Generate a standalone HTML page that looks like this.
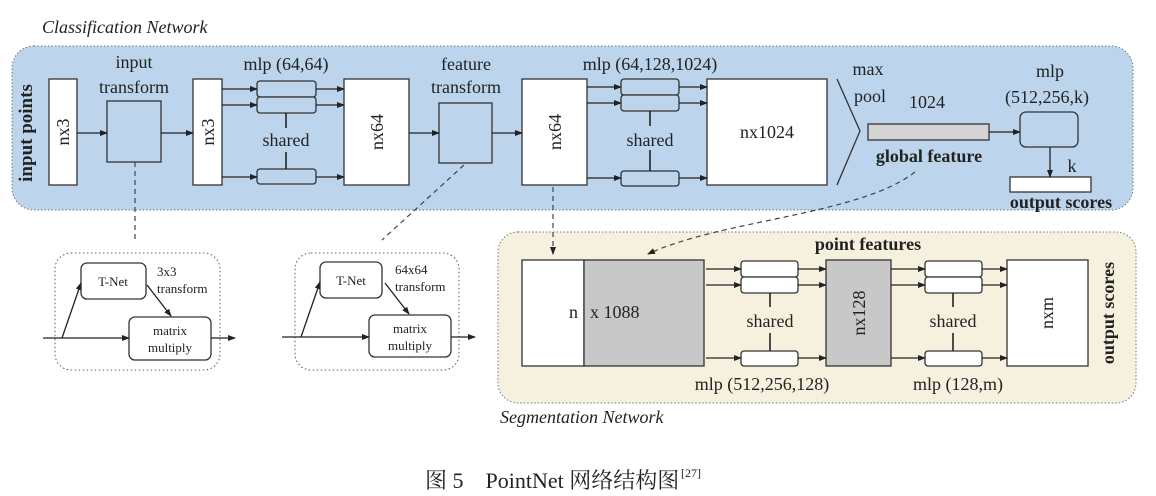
<!DOCTYPE html>
<html><head><meta charset="utf-8"><style>
html,body{margin:0;padding:0;background:#fff;}
svg{display:block;}
text{font-family:"Liberation Serif","Noto Serif CJK SC",serif;fill:#222;}
.b{font-weight:bold;}
</style></head><body>
<svg width="1156" height="496" viewBox="0 0 1156 496" xmlns="http://www.w3.org/2000/svg">
<defs>
<marker id="a" markerWidth="8" markerHeight="6" refX="7" refY="3" orient="auto" markerUnits="userSpaceOnUse"><path d="M0,0 L8,3 L0,6 z" fill="#222"/></marker>
</defs>
<rect x="12" y="46" width="1121" height="164" rx="22" fill="#bcd5ec" stroke="#777" stroke-width="1" stroke-dasharray="1.5,2"/>
<text x="42" y="33" font-size="18" font-style="italic">Classification Network</text>
<text transform="translate(32,133) rotate(-90)" font-size="19" class="b" text-anchor="middle">input points</text>

<g stroke="#333" stroke-width="1.3" fill="#fff">
<rect x="49" y="79" width="28" height="106"/>
<rect x="107" y="101" width="54" height="61" fill="#bcd5ec"/>
<rect x="193" y="79" width="29" height="106"/>
<rect x="257" y="81" width="59" height="16" rx="3" fill="#bcd5ec"/>
<rect x="257" y="97" width="59" height="16" rx="3" fill="#bcd5ec"/>
<rect x="257" y="169" width="59" height="15" rx="3" fill="#bcd5ec"/>
<rect x="344" y="79" width="65" height="106"/>
<rect x="439" y="103" width="53" height="60" fill="#bcd5ec"/>
<rect x="522" y="79" width="65" height="106"/>
<rect x="621" y="79" width="58" height="16" rx="3" fill="#bcd5ec"/>
<rect x="621" y="95" width="58" height="16" rx="3" fill="#bcd5ec"/>
<rect x="621" y="171" width="58" height="15" rx="3" fill="#bcd5ec"/>
<rect x="707" y="79" width="120" height="106"/>
<rect x="868" y="124" width="121" height="16" fill="#d4d4d4"/>
<rect x="1020" y="112" width="58" height="35" rx="6" fill="#bcd5ec"/>
<rect x="1010" y="177" width="81" height="15"/>
</g>
<polyline points="837,79 860,131 837,185" fill="none" stroke="#333" stroke-width="1.3"/>
<g stroke="#222" stroke-width="1.3" marker-end="url(#a)">
<line x1="77" y1="133" x2="107" y2="133"/>
<line x1="161" y1="133" x2="193" y2="133"/>
<line x1="222" y1="89" x2="257" y2="89"/>
<line x1="222" y1="105" x2="257" y2="105"/>
<line x1="222" y1="177" x2="257" y2="177"/>
<line x1="316" y1="89" x2="344" y2="89"/>
<line x1="316" y1="105" x2="344" y2="105"/>
<line x1="316" y1="177" x2="344" y2="177"/>
<line x1="409" y1="133" x2="439" y2="133"/>
<line x1="492" y1="133" x2="522" y2="133"/>
<line x1="587" y1="87" x2="621" y2="87"/>
<line x1="587" y1="103" x2="621" y2="103"/>
<line x1="587" y1="178" x2="621" y2="178"/>
<line x1="679" y1="87" x2="707" y2="87"/>
<line x1="679" y1="103" x2="707" y2="103"/>
<line x1="679" y1="178" x2="707" y2="178"/>
<line x1="989" y1="132" x2="1020" y2="132"/>
<line x1="1050" y1="147" x2="1050" y2="177"/>
</g>
<g stroke="#222" stroke-width="1.6">
<line x1="286" y1="113" x2="286" y2="128"/><line x1="286" y1="152" x2="286" y2="169"/>
<line x1="650" y1="111" x2="650" y2="126"/><line x1="650" y1="150" x2="650" y2="171"/>
</g>
<g font-size="18" text-anchor="middle">
<text x="134" y="68">input</text><text x="134" y="93">transform</text>
<text x="286" y="70">mlp (64,64)</text>
<text x="286" y="146">shared</text>
<text x="466" y="70">feature</text><text x="466" y="93">transform</text>
<text x="650" y="70">mlp (64,128,1024)</text>
<text x="650" y="146">shared</text>
<text x="767" y="138">nx1024</text>
<text x="868" y="75">max</text><text x="870" y="102">pool</text>
<text x="927" y="108">1024</text>
<text x="1050" y="77">mlp</text><text x="1047" y="103">(512,256,k)</text>
<text x="1072" y="172">k</text>
<text x="929" y="162" class="b">global feature</text>
<text x="1061" y="208" class="b">output scores</text>
<text transform="translate(69,132) rotate(-90)">nx3</text>
<text transform="translate(214,132) rotate(-90)">nx3</text>
<text transform="translate(383,132) rotate(-90)">nx64</text>
<text transform="translate(561,132) rotate(-90)">nx64</text>
</g>

<g stroke="#666" stroke-width="1.1" fill="none" stroke-dasharray="1.5,2.5">
<rect x="55" y="253" width="165" height="117" rx="16"/>
<rect x="295" y="253" width="164" height="117" rx="16"/>
</g>
<g stroke="#333" stroke-width="1.3" fill="#fff">
<rect x="81" y="263" width="65" height="36" rx="6"/>
<rect x="129" y="317" width="82" height="43" rx="6"/>
<rect x="320" y="262" width="62" height="36" rx="6"/>
<rect x="369" y="315" width="82" height="42" rx="6"/>
</g>
<g stroke="#222" stroke-width="1.3" fill="none" marker-end="url(#a)">
<line x1="43" y1="338" x2="129" y2="338"/>
<line x1="211" y1="338" x2="235" y2="338"/>
<line x1="62" y1="338" x2="81" y2="283"/>
<line x1="147" y1="285" x2="171" y2="316"/>
<line x1="282" y1="337" x2="369" y2="337"/>
<line x1="451" y1="337" x2="475" y2="337"/>
<line x1="301" y1="337" x2="320" y2="282"/>
<line x1="385" y1="283" x2="409" y2="314"/>
</g>
<g font-size="13">
<text x="113" y="286" text-anchor="middle">T-Net</text>
<text x="351" y="285" text-anchor="middle">T-Net</text>
<text x="157" y="276">3x3</text><text x="157" y="293">transform</text>
<text x="395" y="274">64x64</text><text x="395" y="291">transform</text>
<text x="170" y="335" text-anchor="middle">matrix</text><text x="170" y="352" text-anchor="middle">multiply</text>
<text x="410" y="333" text-anchor="middle">matrix</text><text x="410" y="350" text-anchor="middle">multiply</text>
</g>

<rect x="498" y="232" width="638" height="171" rx="20" fill="#f6f0de" stroke="#777" stroke-width="1" stroke-dasharray="1.5,2"/>
<text x="500" y="423" font-size="18" font-style="italic">Segmentation Network</text>
<g stroke="#333" stroke-width="1.3" fill="#fff">
<rect x="522" y="260" width="62" height="106"/>
<rect x="584" y="260" width="120" height="106" fill="#c8c8c8"/>
<rect x="741" y="261" width="57" height="16" rx="3"/>
<rect x="741" y="277" width="57" height="16" rx="3"/>
<rect x="741" y="351" width="57" height="15" rx="3"/>
<rect x="826" y="260" width="65" height="106" fill="#c8c8c8"/>
<rect x="925" y="261" width="57" height="16" rx="3"/>
<rect x="925" y="277" width="57" height="16" rx="3"/>
<rect x="925" y="351" width="57" height="15" rx="3"/>
<rect x="1007" y="260" width="81" height="106"/>
</g>
<g stroke="#222" stroke-width="1.3" marker-end="url(#a)">
<line x1="706" y1="269" x2="741" y2="269"/>
<line x1="706" y1="285" x2="741" y2="285"/>
<line x1="706" y1="358" x2="741" y2="358"/>
<line x1="798" y1="269" x2="826" y2="269"/>
<line x1="798" y1="285" x2="826" y2="285"/>
<line x1="798" y1="358" x2="826" y2="358"/>
<line x1="891" y1="269" x2="925" y2="269"/>
<line x1="891" y1="285" x2="925" y2="285"/>
<line x1="891" y1="358" x2="925" y2="358"/>
<line x1="982" y1="269" x2="1007" y2="269"/>
<line x1="982" y1="285" x2="1007" y2="285"/>
<line x1="982" y1="358" x2="1007" y2="358"/>
</g>
<g stroke="#222" stroke-width="1.6">
<line x1="770" y1="293" x2="770" y2="307"/><line x1="770" y1="333" x2="770" y2="351"/>
<line x1="953" y1="293" x2="953" y2="307"/><line x1="953" y1="333" x2="953" y2="351"/>
</g>
<g font-size="18" text-anchor="middle">
<text x="868" y="250" class="b">point features</text>
<text x="578" y="318" text-anchor="end">n</text>
<text x="590" y="318" text-anchor="start">x 1088</text>
<text x="770" y="327">shared</text>
<text x="953" y="327">shared</text>
<text x="762" y="390">mlp (512,256,128)</text>
<text x="958" y="390">mlp (128,m)</text>
<text transform="translate(865,313) rotate(-90)">nx128</text>
<text transform="translate(1053,313) rotate(-90)">nxm</text>
<text transform="translate(1114,313) rotate(-90)" class="b">output scores</text>
</g>

<g stroke="#444" stroke-width="1.2" fill="none" stroke-dasharray="5,4">
<line x1="135" y1="162" x2="135" y2="240"/>
<line x1="464" y1="165" x2="382" y2="240"/>
<line x1="553" y1="187" x2="553" y2="254" marker-end="url(#a)"/>
<path d="M915,172 C860,215 720,220 648,254" marker-end="url(#a)"/>
</g>

<text x="425" y="488" font-size="22">图 5　PointNet 网络结构图</text>
<text x="681" y="477" font-size="12">[27]</text>
</svg>
</body></html>
